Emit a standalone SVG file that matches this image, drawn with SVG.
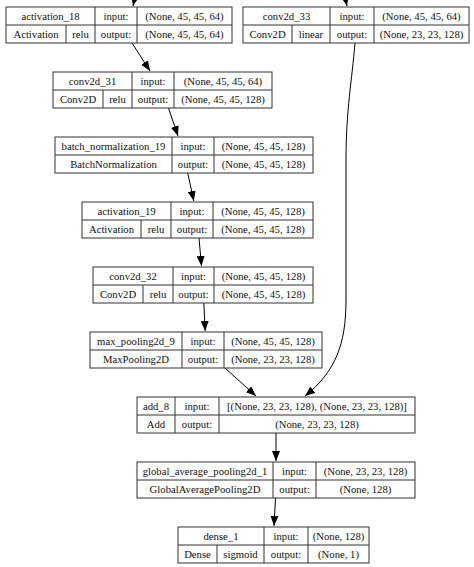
<svg xmlns="http://www.w3.org/2000/svg" width="474" height="567" viewBox="0 0 474 567" font-family="'Liberation Serif', 'Times New Roman', Times, serif">
<style>
.b{fill:#fff;stroke:#333;stroke-width:1}
.l{stroke:#333;stroke-width:1;fill:none}
.t text{font-family:'Liberation Serif','Times New Roman',Times,serif;font-size:10.7px;fill:#111;text-anchor:middle}
.e{stroke:#000;stroke-width:1;fill:none;marker-end:url(#ah)}
</style>
<defs>
<marker id="ah" viewBox="0 0 10 8" refX="10" refY="4" markerWidth="10" markerHeight="8" markerUnits="userSpaceOnUse" orient="auto">
<path d="M0,0 L10,4 L0,8 Z" fill="#000"/>
</marker>
</defs>
<rect width="474" height="567" fill="#fff"/>
<g id="connectors">
<path class="e" d="M137,-12 L133,6"/>
<path class="e" d="M343,-12 L347,6"/>
<path class="e" d="M132,43 L150,71"/>
<path class="e" d="M168.5,108 L178,136"/>
<path class="e" d="M187.7,173 L193.8,201"/>
<path class="e" d="M199,238 L201.5,266"/>
<path class="e" d="M203.8,303 L205.2,331"/>
<path class="e" d="M225,368 L256,396"/>
<path class="e" d="M355,43 C352,80 346,110 346,160 L346,300 C346,345 335,372 305,396"/>
<path class="e" d="M276,433 L276,461"/>
<path class="e" d="M275.5,498 L274,526"/>
</g>
<g id="activation_18" class="t">
<rect class="b" x="6" y="7" width="226" height="36"/>
<path class="l" d="M6,25H232M95,7V43M137,7V43M66,25V43"/>
<text x="50.5" y="19.7">activation_18</text><text x="116" y="19.7">input:</text><text x="184.5" y="19.7">(None, 45, 45, 64)</text>
<text x="36" y="37.7">Activation</text><text x="80.5" y="37.7">relu</text><text x="116" y="37.7">output:</text><text x="184.5" y="37.7">(None, 45, 45, 64)</text>
</g>
<g id="conv2d_33" class="t">
<rect class="b" x="243" y="7" width="226" height="36"/>
<path class="l" d="M243,25H469M330,7V43M374,7V43M292,25V43"/>
<text x="286.5" y="19.7">conv2d_33</text><text x="352" y="19.7">input:</text><text x="421.5" y="19.7">(None, 45, 45, 64)</text>
<text x="267.5" y="37.7">Conv2D</text><text x="311" y="37.7">linear</text><text x="352" y="37.7">output:</text><text x="421.5" y="37.7">(None, 23, 23, 128)</text>
</g>
<g id="conv2d_31" class="t">
<rect class="b" x="53" y="72" width="219" height="36"/>
<path class="l" d="M53,90H272M132,72V108M174,72V108M103,90V108"/>
<text x="92.5" y="84.7">conv2d_31</text><text x="153" y="84.7">input:</text><text x="223" y="84.7">(None, 45, 45, 64)</text>
<text x="78" y="102.7">Conv2D</text><text x="117.5" y="102.7">relu</text><text x="153" y="102.7">output:</text><text x="223" y="102.7">(None, 45, 45, 128)</text>
</g>
<g id="batch_normalization_19" class="t">
<rect class="b" x="55" y="137" width="258" height="36"/>
<path class="l" d="M55,155H313M172,137V173M214,137V173"/>
<text x="113.5" y="149.7">batch_normalization_19</text><text x="193" y="149.7">input:</text><text x="263.5" y="149.7">(None, 45, 45, 128)</text>
<text x="113.5" y="167.7">BatchNormalization</text><text x="193" y="167.7">output:</text><text x="263.5" y="167.7">(None, 45, 45, 128)</text>
</g>
<g id="activation_19" class="t">
<rect class="b" x="82" y="202" width="231" height="36"/>
<path class="l" d="M82,220H313M171,202V238M213,202V238M141,220V238"/>
<text x="126.5" y="214.7">activation_19</text><text x="192" y="214.7">input:</text><text x="263" y="214.7">(None, 45, 45, 128)</text>
<text x="111.5" y="232.7">Activation</text><text x="156" y="232.7">relu</text><text x="192" y="232.7">output:</text><text x="263" y="232.7">(None, 45, 45, 128)</text>
</g>
<g id="conv2d_32" class="t">
<rect class="b" x="93" y="267" width="220" height="36"/>
<path class="l" d="M93,285H313M173,267V303M214,267V303M143,285V303"/>
<text x="133" y="279.7">conv2d_32</text><text x="193.5" y="279.7">input:</text><text x="263.5" y="279.7">(None, 45, 45, 128)</text>
<text x="118" y="297.7">Conv2D</text><text x="158" y="297.7">relu</text><text x="193.5" y="297.7">output:</text><text x="263.5" y="297.7">(None, 45, 45, 128)</text>
</g>
<g id="max_pooling2d_9" class="t">
<rect class="b" x="90" y="332" width="232" height="36"/>
<path class="l" d="M90,350H322M182,332V368M224,332V368"/>
<text x="136" y="344.7">max_pooling2d_9</text><text x="203" y="344.7">input:</text><text x="273" y="344.7">(None, 45, 45, 128)</text>
<text x="136" y="362.7">MaxPooling2D</text><text x="203" y="362.7">output:</text><text x="273" y="362.7">(None, 23, 23, 128)</text>
</g>
<g id="add_8" class="t">
<rect class="b" x="137" y="397" width="278" height="36"/>
<path class="l" d="M137,415H415M175,397V433M219,397V433"/>
<text x="156" y="409.7">add_8</text><text x="197" y="409.7">input:</text><text x="317" y="409.7">[(None, 23, 23, 128), (None, 23, 23, 128)]</text>
<text x="156" y="427.7">Add</text><text x="197" y="427.7">output:</text><text x="317" y="427.7">(None, 23, 23, 128)</text>
</g>
<g id="global_average_pooling2d_1" class="t">
<rect class="b" x="137" y="462" width="278" height="36"/>
<path class="l" d="M137,480H415M273,462V498M316,462V498"/>
<text x="205" y="474.7">global_average_pooling2d_1</text><text x="294.5" y="474.7">input:</text><text x="365.5" y="474.7">(None, 23, 23, 128)</text>
<text x="205" y="492.7">GlobalAveragePooling2D</text><text x="294.5" y="492.7">output:</text><text x="365.5" y="492.7">(None, 128)</text>
</g>
<g id="dense_1" class="t">
<rect class="b" x="178" y="527" width="191" height="36"/>
<path class="l" d="M178,545H369M264,527V563M308,527V563M217,545V563"/>
<text x="221" y="539.7">dense_1</text><text x="286" y="539.7">input:</text><text x="338.5" y="539.7">(None, 128)</text>
<text x="197.5" y="557.7">Dense</text><text x="240.5" y="557.7">sigmoid</text><text x="286" y="557.7">output:</text><text x="338.5" y="557.7">(None, 1)</text>
</g>
</svg>
